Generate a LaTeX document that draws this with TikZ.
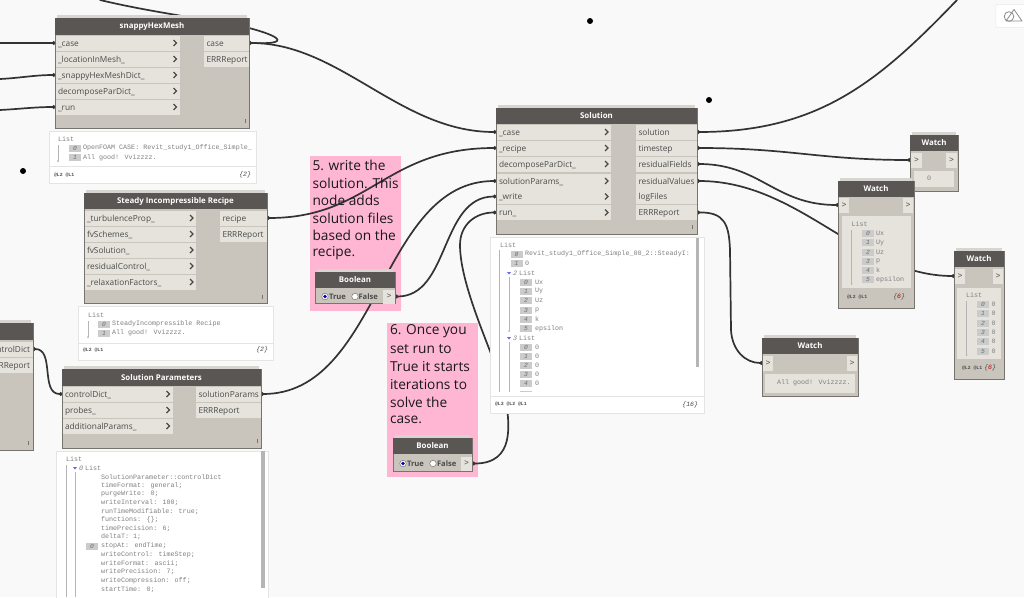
\documentclass[tikz,border=0pt]{standalone}
\usepackage{fontspec}
\setmainfont{Open Sans}
\newfontfamily\notefont{Open Sans}
\newfontfamily\codefont{Liberation Mono}
\usetikzlibrary{arrows.meta}
\definecolor{canvas}{HTML}{F9F9F9}
\definecolor{hdrcol}{HTML}{5A5653}
\definecolor{bodycol}{HTML}{C9C5BD}
\definecolor{rowcol}{HTML}{E6E3DD}
\definecolor{edgecol}{HTML}{77746F}
\definecolor{notecol}{HTML}{FFB6D3}
\definecolor{wirecol}{HTML}{333333}
\definecolor{txtcol}{HTML}{4A4A4A}
\definecolor{codecol}{HTML}{808080}
\definecolor{idxcol}{HTML}{CBCBCB}
\definecolor{linecol}{HTML}{B5B5B5}
\definecolor{panelline}{HTML}{E4E4E4}
\pgfdeclarelayer{notes}
\pgfdeclarelayer{wires}
\pgfsetlayers{notes,wires,main}
\tikzset{
  x=1pt,y=-1pt,
  dbody/.style={draw=edgecol,line width=1pt,fill=bodycol,anchor=north west,inner sep=0pt,outer sep=0pt},
  dhead/.style={fill=hdrcol,anchor=north west,inner sep=0pt,outer sep=0pt,text=white,font=\fontsize{7.9}{10}\selectfont\bfseries},
  drow/.style={fill=rowcol,anchor=west,inner sep=0pt,outer sep=0pt,minimum height=15pt,text=txtcol,font=\fontsize{8.3}{10}\selectfont,align=left,text height=7.5pt,text depth=1.5pt},
  drowlab/.style={anchor=east,inner sep=0pt,outer sep=0pt,text=txtcol,font=\fontsize{8.3}{10}\selectfont,text height=7.5pt,text depth=1.5pt},
  dchev/.style={draw=txtcol,line width=1.2pt,line join=miter},
  codetxt/.style={anchor=west,inner sep=0pt,outer sep=0pt,text=codecol,font=\fontsize{6.7}{8}\codefont},
  idxbox/.style={fill=idxcol,anchor=center,inner sep=0pt,outer sep=0pt,text=codecol!85!black,font=\fontsize{6.3}{7}\codefont\itshape,minimum width=12pt,minimum height=7pt},
  tree/.style={draw=linecol,line width=.8pt},
  panel/.style={draw=panelline,line width=.6pt,fill=white,anchor=north west,inner sep=0pt,outer sep=0pt},
  lvls/.style={anchor=west,inner sep=0pt,outer sep=0pt,text=txtcol,font=\fontsize{4.8}{6}\codefont\bfseries},
  cnt/.style={anchor=east,inner sep=0pt,outer sep=0pt,text=txtcol,font=\fontsize{6.5}{8}\codefont\itshape},
  inner/.style={fill=rowcol,anchor=north west,inner sep=0pt,outer sep=0pt},
  wport/.style={fill=rowcol,anchor=center,inner sep=0pt,outer sep=0pt,text=txtcol,font=\fontsize{8}{9}\codefont},
  wire/.style={draw=wirecol,line width=1.7pt,line cap=round},
  both/.style={wire,{Circle[length=3.6pt]}-{Circle[length=3.6pt]}},
  toend/.style={wire,-{Circle[length=3.6pt]}},
  fromend/.style={wire,{Circle[length=3.6pt]}-},
  notebox/.style={fill=notecol,anchor=north west,inner sep=0pt,outer sep=0pt},
  notetxt/.style={anchor=west,inner sep=0pt,outer sep=0pt,text=black!90,font=\fontsize{13.7}{17}\notefont},
  radio/.style={circle,draw=edgecol,line width=.5pt,fill=white,minimum size=6.5pt,inner sep=0pt,anchor=center},
  blab/.style={anchor=west,inner sep=0pt,outer sep=0pt,text=txtcol,font=\fontsize{7.6}{9}\selectfont\bfseries},
  blackdot/.style={circle,fill=black,inner sep=0pt,minimum size=6pt},
}
% name, x, y, w, h, header height, title
\newcommand{\dynode}[7]{%
  \fill[bodycol!70!canvas] (#2+2,#3-3) rectangle (#2+#4-2,#3);
  \node[dbody,minimum width=#4 pt,minimum height=#5 pt] (#1) at (#2,#3) {};
  \node[dhead,minimum width=#4 pt,minimum height=#6 pt] (#1-head) at (#2,#3) {#7};
}
% name, x, yc, w, text
\newcommand{\inrow}[5]{%
  \node[drow,minimum width=#4 pt,text width=#4 pt-5pt,inner xsep=2.5pt] (#1) at (#2,#3) {\mbox{#5}};
  \draw[dchev] (#2+#4-6,#3-3) -- (#2+#4-3,#3) -- (#2+#4-6,#3+3);
}
\newcommand{\outrow}[5]{%
  \node[drow,minimum width=#4 pt,text width=#4 pt-5pt,inner xsep=2.5pt] (#1) at (#2,#3) {\mbox{#5}};
}
\newcommand{\grip}[2]{\draw[edgecol,line width=.7pt] (#1,#2-2) -- (#1,#2+2);}
\newcommand{\idx}[3]{\node[idxbox] (i#1x#2) at (#1,#2) {#3};}
\newcommand{\code}[3]{\node[codetxt] (c#1x#2) at (#1,#2) {#3};}
\newcommand{\marker}[2]{\fill[blue!60!canvas] (#1-2,#2-1) -- (#1+2,#2-1) -- (#1,#2+1.5) -- cycle;}
\newcommand{\treeline}[3]{%
  \draw[tree] (#1,#2) -- (#1,#3);}
\newcommand{\treeend}[3]{%
  \draw[tree] (#1,#2) -- (#1,#3);
  \fill[linecol] (#1,#3) circle (1pt);}
\begin{document}
\begin{tikzpicture}
\useasboundingbox (0,0) rectangle (1024,597);
\begin{pgfonlayer}{notes}
\fill[canvas] (0,0) rectangle (1024,597);
\node[notebox,minimum width=91pt,minimum height=155pt] (noteA) at (310,156) {};
\node[notebox,minimum width=91pt,minimum height=154pt] (noteB) at (387,323) {};
\end{pgfonlayer}

% ----- note texts
\node[notetxt] (nA1) at (312.5,165) {5. write the};
\node[notetxt] (nA2) at (312.5,183) {solution. This};
\node[notetxt] (nA3) at (312.5,200.5) {node adds};
\node[notetxt] (nA4) at (312.5,218) {solution files};
\node[notetxt] (nA5) at (312.5,235.5) {based on the};
\node[notetxt] (nA6) at (312.5,253.5) {recipe.};
\node[notetxt] (nB1) at (390,331.5) {6. Once you};
\node[notetxt] (nB2) at (390,349.5) {set run to};
\node[notetxt] (nB3) at (390,367) {True it starts};
\node[notetxt] (nB4) at (390,384.5) {iterations to};
\node[notetxt] (nB5) at (390,402.5) {solve the};
\node[notetxt] (nB6) at (390,420) {case.};

% ----- snappyHexMesh
\dynode{shm}{55}{18}{194}{110}{17}{snappyHexMesh}
\inrow{shmA}{55.5}{43}{124}{\_case}
\inrow{shmB}{55.5}{59}{124}{\_locationInMesh\_}
\inrow{shmC}{55.5}{75}{124}{\_snappyHexMeshDict\_}
\inrow{shmD}{55.5}{91}{124}{decomposeParDict\_}
\inrow{shmE}{55.5}{107}{124}{\_run}
\outrow{shmO}{204}{43}{44.5}{case}
\outrow{shmR}{204}{59}{44.5}{ERRReport}
\grip{245.5}{121}
\node[panel,minimum width=207pt,minimum height=52pt] (shmP) at (49,131) {};
\draw[panelline,line width=.6pt] (49,166) -- (256,166);
\code{58}{139.5}{List}
\treeend{58}{145}{161}
\idx{75}{148}{0}\code{83}{148}{OpenFOAM CASE: Revit\_study1\_Office\_Simple\_}
\idx{75}{157.5}{1}\code{83}{157.5}{All good! Vvizzzz.}
\node[lvls] (shmL) at (54,175) {@L2 @L1};
\node[cnt] (shmN) at (251,175) {\{2\}};

% ----- Steady Incompressible Recipe
\dynode{sir}{84}{193}{183}{110}{16}{Steady Incompressible Recipe}
\inrow{sirA}{84.5}{218}{111.5}{\_turbulenceProp\_}
\inrow{sirB}{84.5}{234}{111.5}{fvSchemes\_}
\inrow{sirC}{84.5}{250}{111.5}{fvSolution\_}
\inrow{sirD}{84.5}{266}{111.5}{residualControl\_}
\inrow{sirE}{84.5}{282}{111.5}{\_relaxationFactors\_}
\outrow{sirO}{220}{218}{46.5}{recipe}
\outrow{sirR}{220}{234}{46.5}{ERRReport}
\grip{262.5}{297}
\node[panel,minimum width=195pt,minimum height=54pt] (sirP) at (78,306) {};
\draw[panelline,line width=.6pt] (78,343) -- (273,343);
\code{88}{315.5}{List}
\treeend{88}{321}{337}
\idx{104}{324}{0}\code{112}{324}{SteadyIncompressible Recipe}
\idx{104}{333}{1}\code{112}{333}{All good! Vvizzzz.}
\node[lvls] (sirL) at (83,350) {@L2 @L1};
\node[cnt] (sirN) at (268,350) {\{2\}};

% ----- left stub
\dynode{stb}{-4}{323}{37}{127}{17}{}
\outrow{stbA}{-4}{349}{36.5}{}
\outrow{stbB}{-4}{365}{36.5}{}
\node[drowlab] (stbAl) at (30,349) {controlDict};
\node[drowlab] (stbBl) at (30,365) {ERRReport};
\grip{28}{443}

% ----- Solution Parameters
\dynode{spm}{62}{369}{199}{79}{17}{Solution Parameters}
\inrow{spmA}{62.5}{394}{110}{controlDict\_}
\inrow{spmB}{62.5}{410}{110}{probes\_}
\inrow{spmC}{62.5}{426}{110}{additionalParams\_}
\outrow{spmO}{196}{394}{64.5}{solutionParams}
\outrow{spmR}{196}{410}{64.5}{ERRReport}
\grip{257}{441}
\node[panel,minimum width=212pt,minimum height=147pt] (spmP) at (56,451) {};
\fill[linecol] (261,451) rectangle (264.5,588);
\code{66}{459.5}{List}
\treeline{66}{465}{597}
\treeline{75}{472}{597}
\marker{75}{468}
\code{79}{468}{\itshape 0}\code{85}{468}{List}
\code{101}{477.5}{SolutionParameter::controlDict}
\code{101}{486}{timeFormat: general;}
\code{101}{494}{purgeWrite: 0;}
\code{101}{503}{writeInterval: 100;}
\code{101}{511.5}{runTimeModifiable: true;}
\code{101}{520}{functions: \{\};}
\code{101}{528.5}{timePrecision: 6;}
\code{101}{537}{deltaT: 1;}
\idx{92}{546}{0}\code{101}{546}{stopAt: endTime;}
\code{101}{555}{writeControl: timeStep;}
\code{101}{563.5}{writeFormat: ascii;}
\code{101}{572}{writePrecision: 7;}
\code{101}{581}{writeCompression: off;}
\code{101}{589.5}{startTime: 0;}

% ----- Boolean nodes
\dynode{boA}{315}{272}{80}{31}{16}{Boolean}
\node[radio] (boAt) at (325,296.5) {};
\fill[blue!75!black] (boAt.center) circle (1.9pt);
\node[blab] (boAtl) at (329,296.5) {True};
\node[radio] (boAf) at (355,296.5) {};
\node[blab] (boAfl) at (358.5,296.5) {False};
\node[wport,minimum width=11.5pt,minimum height=14pt] (boAp) at (389,296.5) {>};
\dynode{boB}{393}{438}{79}{33}{16}{Boolean}
\node[radio] (boBt) at (403,463.5) {};
\fill[blue!75!black] (boBt.center) circle (1.9pt);
\node[blab] (boBtl) at (407,463.5) {True};
\node[radio] (boBf) at (433,463.5) {};
\node[blab] (boBfl) at (437,463.5) {False};
\node[wport,minimum width=11pt,minimum height=14pt] (boBp) at (466.5,463.5) {>};

% ----- Solution
\dynode{sol}{496}{108}{201}{126}{16}{Solution}
\inrow{solA}{496.5}{132}{114.5}{\_case}
\inrow{solB}{496.5}{148}{114.5}{\_recipe}
\inrow{solC}{496.5}{164}{114.5}{decomposeParDict\_}
\inrow{solD}{496.5}{181}{114.5}{solutionParams\_}
\inrow{solE}{496.5}{196.5}{114.5}{\_write}
\inrow{solF}{496.5}{212.5}{114.5}{run\_}
\outrow{solO}{636}{132}{60.5}{solution}
\outrow{solP}{636}{148}{60.5}{timestep}
\outrow{solQ}{636}{164}{60.5}{residualFields}
\outrow{solS}{636}{181}{60.5}{residualValues}
\outrow{solT}{636}{196.5}{60.5}{logFiles}
\outrow{solU}{636}{212.5}{60.5}{ERRReport}
\grip{692.5}{227}
\node[panel,minimum width=214pt,minimum height=176pt] (solV) at (490,237) {};
\draw[panelline,line width=.6pt] (490,396) -- (704,396);
\fill[linecol] (696,238) rectangle (699,367);
\code{500}{245.5}{List}
\treeline{499.5}{250}{392}
\idx{516.5}{254}{0}\code{525}{254}{Revit\_study1\_Office\_Simple\_00\_2::SteadyI:}
\idx{516.5}{263.5}{1}\code{525}{263.5}{0}
\marker{509}{273}
\code{513}{273}{\itshape 2}\code{519}{273}{List}
\treeend{509}{277}{331}
\idx{526}{282}{0}\code{535}{282}{Ux}
\idx{526}{291}{1}\code{535}{291}{Uy}
\idx{526}{300.5}{2}\code{535}{300.5}{Uz}
\idx{526}{310}{3}\code{535}{310}{p}
\idx{526}{319}{4}\code{535}{319}{k}
\idx{526}{328.5}{5}\code{535}{328.5}{epsilon}
\marker{509}{338}
\code{513}{338}{\itshape 3}\code{519}{338}{List}
\treeline{509}{342}{392}
\idx{526}{347}{0}\code{535}{347}{0}
\idx{526}{356}{1}\code{535}{356}{0}
\idx{526}{365}{2}\code{535}{365}{0}
\idx{526}{374.5}{3}\code{535}{374.5}{0}
\idx{526}{383.5}{4}\code{535}{383.5}{0}
\fill[idxcol] (520,390.5) rectangle (532,392);
\node[lvls] (solL) at (495,404.5) {@L3 @L2 @L1};
\node[cnt] (solN) at (698,404.5) {\{16\}};

% ----- Watch 1
\dynode{wa}{910}{135}{48}{56}{16}{Watch}
\node[wport,minimum width=11pt,minimum height=15pt] (waI) at (916.5,160) {>};
\node[wport,minimum width=11pt,minimum height=15pt] (waO) at (951.5,160) {>};
\node[inner,minimum width=40pt,minimum height=16pt] (waB) at (914,171) {};
\code{927}{178.5}{0}

% ----- Watch 2
\dynode{wb}{838}{181}{76}{127}{16}{Watch}
\node[wport,minimum width=10pt,minimum height=15pt] (wbI) at (844,205) {>};
\node[wport,minimum width=10pt,minimum height=15pt] (wbO) at (908,205) {>};
\node[inner,minimum width=69pt,minimum height=72pt] (wbB) at (842,216) {};
\code{851.5}{224.5}{List}
\treeend{851.5}{230}{284}
\idx{868}{233}{0}\code{876}{233}{Ux}
\idx{868}{242.5}{1}\code{876}{242.5}{Uy}
\idx{868}{252}{2}\code{876}{252}{Uz}
\idx{868}{261}{3}\code{876}{261}{p}
\idx{868}{270}{4}\code{876}{270}{k}
\idx{868}{279.5}{5}\code{876}{279.5}{epsilon}
\node[lvls] (wbL) at (847,297) {@L2 @L1};
\node[cnt] (wbN) at (905,297) {\{\textcolor{red!70!black}{6}\}};

% ----- Watch 3
\dynode{wc}{954}{251}{50}{128}{16}{Watch}
\node[wport,minimum width=10pt,minimum height=15pt] (wcI) at (960,276) {>};
\node[wport,minimum width=10pt,minimum height=15pt] (wcO) at (998,276) {>};
\node[inner,minimum width=44pt,minimum height=71pt] (wcB) at (957,288) {};
\code{966}{295.5}{List}
\treeend{966.5}{301}{355}
\idx{983}{304}{0}\code{991.5}{304}{0}
\idx{983}{313.5}{1}\code{991.5}{313.5}{0}
\idx{983}{323}{2}\code{991.5}{323}{0}
\idx{983}{332.5}{3}\code{991.5}{332.5}{0}
\idx{983}{341.5}{4}\code{991.5}{341.5}{0}
\idx{983}{351}{5}\code{991.5}{351}{0}
\node[lvls] (wcL) at (962,368) {@L2 @L1};
\node[cnt] (wcN) at (996,368) {\{\textcolor{red!70!black}{6}\}};

% ----- Watch 4
\dynode{wd}{762}{338}{96}{58}{16}{Watch}
\node[wport,minimum width=10pt,minimum height=15pt] (wdI) at (768,363) {>};
\node[wport,minimum width=10pt,minimum height=15pt] (wdO) at (852,363) {>};
\node[inner,minimum width=90pt,minimum height=19pt] (wdB) at (765,374) {};
\code{777}{382.5}{All good! Vvizzzz.}

% ----- free wire ends and stray dots
\coordinate (inA) at (0,43);
\coordinate (inB) at (0,79);
\coordinate (inC) at (0,110);
\coordinate (topA) at (100,0);
\coordinate (outSol) at (957,0);
\node[blackdot] (dotA) at (590,21) {};
\node[blackdot] (dotB) at (709,100) {};
\node[blackdot] (dotC) at (23,171) {};

% ----- canvas tool icon
\node[draw=black!8,fill=white,rounded corners=2pt,line width=.7pt,minimum width=30pt,minimum height=23pt,anchor=north west,inner sep=0pt] (tool) at (995.5,4) {};
\draw[black!45,line width=.8pt] (1009,16.5) circle (4.8pt);
\draw[black!45,line width=.8pt,line join=round] (1006,21) -- (1014,9.5) -- (1022,21) -- cycle;

% ----- wires
\begin{pgfonlayer}{wires}
\draw[toend] (inA) -- (shmA.west);
\draw[toend] (inB) .. controls (20,78) and (35,75) .. (shmC.west);
\draw[toend] (inC) .. controls (20,109) and (35,107) .. (shmE.west);
\draw[wire] (topA) .. controls (150,12) and (200,18) .. (249,28) .. controls (268,33) and (280,38) .. (277,41) .. controls (273,44) and (260,43) .. (shmO.east);
\draw[both] (shmO.east) .. controls (340,43) and (400,132) .. (solA.west);
\draw[both] (sirO.east) .. controls (370,218) and (385,148) .. (solB.west);
\draw[both] (spmO.east) .. controls (380,394) and (380,181) .. (solD.west);
\draw[both] (boAp.east) .. controls (450,296.5) and (440,196.5) .. (solE.west);
\draw[both] (boBp.east) .. controls (515,463.5) and (510,425) .. (505,395) .. controls (499,365) and (460,290) .. (460,245) .. controls (460,225) and (475,212.5) .. (solF.west);
\draw[fromend] (solO.east) .. controls (820,132) and (880,80) .. (outSol);
\draw[both] (solP.east) .. controls (790,148) and (820,160) .. (waI.west);
\draw[both] (solQ.east) .. controls (760,164) and (775,205) .. (wbI.west);
\draw[both] (solS.east) .. controls (800,181) and (860,276) .. (wcI.west);
\draw[both] (solU.east) .. controls (725,212) and (729,225) .. (730,250) -- (731,330) .. controls (732,350) and (745,363) .. (wdI.west);
\draw[both] (stbA.east) .. controls (55,349) and (40,394) .. (spmA.west);
\end{pgfonlayer}
\end{tikzpicture}
\end{document}
